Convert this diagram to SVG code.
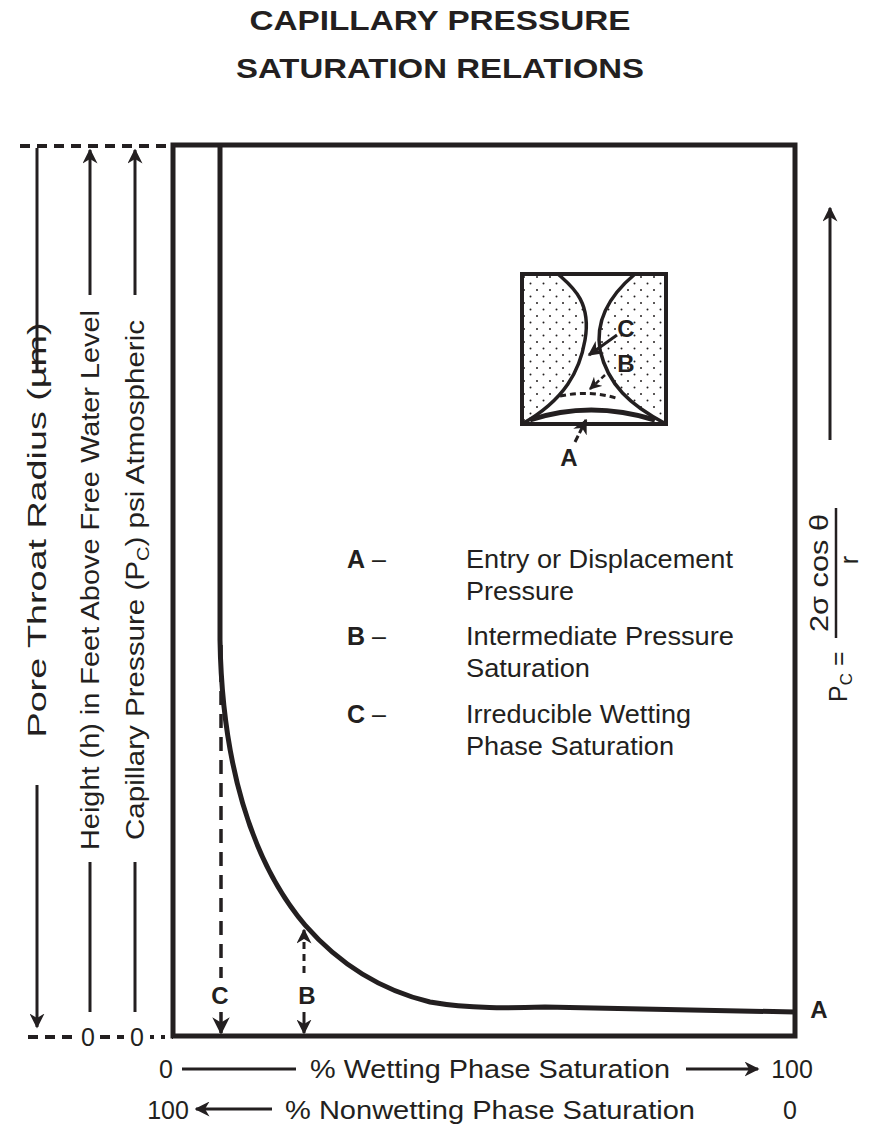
<svg xmlns="http://www.w3.org/2000/svg" width="888" height="1136" viewBox="0 0 888 1136">
<defs>
<marker id="ah" viewBox="0 0 10 10" refX="9" refY="5" markerWidth="5" markerHeight="5" orient="auto-start-reverse" markerUnits="strokeWidth"><path d="M0,0 L10,5 L0,10 L3,5 z" fill="#231f20"/></marker>
<pattern id="dots" width="13" height="13" patternUnits="userSpaceOnUse"><circle cx="4" cy="4" r="1" fill="#231f20"/><circle cx="10.5" cy="10.5" r="1" fill="#231f20"/></pattern>
</defs>
<style>
text{font-family:"Liberation Sans",Arial,sans-serif;fill:#231f20}
.t{font-size:28px;font-weight:bold}
.l{font-size:25px}
.b{font-size:24px;font-weight:bold}
.s{stroke:#231f20;fill:none}
</style>
<rect width="888" height="1136" fill="#fff"/>
<g id="title">
<text class="t" x="440" y="30" text-anchor="middle" textLength="381" lengthAdjust="spacingAndGlyphs">CAPILLARY PRESSURE</text>
<text class="t" x="440" y="78" text-anchor="middle" textLength="408" lengthAdjust="spacingAndGlyphs">SATURATION RELATIONS</text>
</g>
<g id="plot">
<rect x="173" y="145" width="622" height="891" class="s" stroke-width="5"/>
<path d="M220,145 L220,640 C222,760 250,860 305,925 C340,965 380,990 430,1002 C470,1009 510,1008 545,1007 L795,1012" class="s" stroke-width="5"/>
</g>
<g id="connectors">
<line x1="221" y1="645" x2="221" y2="978" class="s" stroke-width="3.5" stroke-dasharray="14,9"/>
<line x1="221" y1="1012" x2="221" y2="1033" class="s" stroke-width="3.5" marker-end="url(#ah)"/>
<line x1="304" y1="930" x2="304" y2="978" class="s" stroke-width="3" stroke-dasharray="7,5" marker-start="url(#ah)"/>
<line x1="304" y1="1012" x2="304" y2="1033" class="s" stroke-width="3" marker-end="url(#ah)"/>
<line x1="20" y1="146" x2="173" y2="146" class="s" stroke-width="4" stroke-dasharray="10,7"/>
<line x1="28" y1="1037" x2="76" y2="1037" class="s" stroke-width="4" stroke-dasharray="10,7"/>
<line x1="100" y1="1037" x2="124" y2="1037" class="s" stroke-width="4" stroke-dasharray="10,7"/>
<line x1="150" y1="1037" x2="173" y2="1037" class="s" stroke-width="4" stroke-dasharray="4,7"/>
<line x1="37" y1="148" x2="37" y2="370" class="s" stroke-width="3"/>
<line x1="37" y1="785" x2="37" y2="1027" class="s" stroke-width="3" marker-end="url(#ah)"/>
<line x1="90" y1="295" x2="90" y2="150" class="s" stroke-width="3" marker-end="url(#ah)"/>
<line x1="90" y1="862" x2="90" y2="1012" class="s" stroke-width="3"/>
<line x1="135" y1="295" x2="135" y2="150" class="s" stroke-width="3" marker-end="url(#ah)"/>
<line x1="135" y1="862" x2="135" y2="1012" class="s" stroke-width="3"/>
<line x1="830" y1="440" x2="830" y2="208" class="s" stroke-width="3" marker-end="url(#ah)"/>
<line x1="182" y1="1069" x2="296" y2="1069" class="s" stroke-width="3"/>
<line x1="686" y1="1069" x2="758" y2="1069" class="s" stroke-width="3" marker-end="url(#ah)"/>
<line x1="272" y1="1109" x2="196" y2="1109" class="s" stroke-width="3" marker-end="url(#ah)"/>
</g>
<g id="axis-labels">
<text class="l" transform="translate(46,530) rotate(-90)" text-anchor="middle" textLength="415" lengthAdjust="spacingAndGlyphs">Pore Throat Radius (µm)</text>
<text class="l" transform="translate(99,580) rotate(-90)" text-anchor="middle" textLength="540" lengthAdjust="spacingAndGlyphs">Height (h) in Feet Above Free Water Level</text>
<text class="l" transform="translate(144,580) rotate(-90)" text-anchor="middle" textLength="520" lengthAdjust="spacingAndGlyphs">Capillary Pressure  (P<tspan font-size="17" dy="5">C</tspan><tspan dy="-5">) psi Atmospheric</tspan></text>
<text class="l" x="88" y="1046" text-anchor="middle">0</text>
<text class="l" x="137" y="1046" text-anchor="middle">0</text>
<text class="l" x="166" y="1078" text-anchor="middle">0</text>
<text class="l" x="490" y="1078" text-anchor="middle" textLength="360" lengthAdjust="spacingAndGlyphs">% Wetting Phase Saturation</text>
<text class="l" x="792" y="1078" text-anchor="middle">100</text>
<text class="l" x="168" y="1119" text-anchor="middle">100</text>
<text class="l" x="490" y="1119" text-anchor="middle" textLength="410" lengthAdjust="spacingAndGlyphs">% Nonwetting Phase Saturation</text>
<text class="l" x="790" y="1119" text-anchor="middle">0</text>
<text class="b" x="220" y="1004" text-anchor="middle">C</text>
<text class="b" x="307" y="1004" text-anchor="middle">B</text>
<text class="b" x="819" y="1018" text-anchor="middle">A</text>
</g>
<g id="formula">
<text class="l" transform="translate(847,702) rotate(-90)">P<tspan font-size="17" dy="5">C</tspan><tspan dy="-5"> =</tspan></text>
<line x1="836" y1="508" x2="836" y2="638" class="s" stroke-width="2.5"/>
<text class="l" transform="translate(828,573) rotate(-90)" text-anchor="middle" textLength="118" lengthAdjust="spacingAndGlyphs">2σ cos θ</text>
<text class="l" transform="translate(858,560) rotate(-90)" text-anchor="middle">r</text>
</g>
<g id="inset">
<rect x="522" y="274" width="144" height="150" fill="url(#dots)"/>
<path d="M522,424 C565,400 580,370 585,340 C592,300 570,285 558,274 L635,274 C610,295 595,320 600,350 C608,385 630,405 666,424 Z" fill="#fff"/>
<path d="M558,274 C570,285 592,300 585,340 C580,370 565,400 522,424" class="s" stroke-width="3.5"/>
<path d="M635,274 C610,295 595,320 600,350 C608,385 630,405 666,424" class="s" stroke-width="3.5"/>
<rect x="522" y="274" width="144" height="150" class="s" stroke-width="4"/>
<path d="M530,420 Q590,400 655,420" class="s" stroke-width="5"/>
<path d="M560,396 Q590,390 616,398" class="s" stroke-width="3" stroke-dasharray="6,4"/>
<line x1="617" y1="335" x2="589" y2="355" class="s" stroke-width="3" marker-end="url(#ah)"/>
<line x1="605" y1="375" x2="590" y2="389" class="s" stroke-width="2.5" stroke-dasharray="5,3" marker-end="url(#ah)"/>
<line x1="575" y1="442" x2="586" y2="420" class="s" stroke-width="3" stroke-dasharray="7,3" marker-end="url(#ah)"/>
<text class="b" x="626" y="337" text-anchor="middle">C</text>
<text class="b" x="626" y="372" text-anchor="middle">B</text>
<text class="b" x="569" y="466" text-anchor="middle">A</text>
</g>
<g id="legend">
<text class="l" x="347" y="568"><tspan font-weight="bold">A</tspan> –</text>
<text class="l" x="466" y="568" textLength="267" lengthAdjust="spacingAndGlyphs">Entry or Displacement</text>
<text class="l" x="466" y="600" textLength="108" lengthAdjust="spacingAndGlyphs">Pressure</text>
<text class="l" x="347" y="645"><tspan font-weight="bold">B</tspan> –</text>
<text class="l" x="466" y="645" textLength="268" lengthAdjust="spacingAndGlyphs">Intermediate Pressure</text>
<text class="l" x="466" y="677" textLength="124" lengthAdjust="spacingAndGlyphs">Saturation</text>
<text class="l" x="347" y="723"><tspan font-weight="bold">C</tspan> –</text>
<text class="l" x="466" y="723" textLength="225" lengthAdjust="spacingAndGlyphs">Irreducible Wetting</text>
<text class="l" x="466" y="755" textLength="208" lengthAdjust="spacingAndGlyphs">Phase Saturation</text>
</g>
</svg>
